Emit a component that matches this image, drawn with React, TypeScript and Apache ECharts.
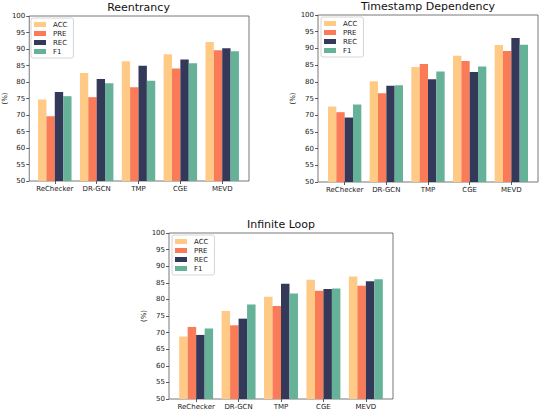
import { useEffect, useRef } from 'react'
import * as echarts from 'echarts'

const categories = ['ReChecker', 'DR-GCN', 'TMP', 'CGE', 'MEVD']
const metrics = ['ACC', 'PRE', 'REC', 'F1']
const yTicks = [50, 55, 60, 65, 70, 75, 80, 85, 90, 95, 100]

const reentrancyACC = [74.7, 82.7, 86.3, 88.4, 92.1]
const reentrancyPRE = [69.6, 75.4, 78.4, 84.1, 89.6]
const reentrancyREC = [77.0, 80.9, 84.9, 86.8, 90.2]
const reentrancyF1 = [75.7, 79.6, 80.4, 85.7, 89.3]

const timestampACC = [72.6, 80.2, 84.4, 87.8, 91.0]
const timestampPRE = [70.9, 76.6, 85.3, 86.2, 89.2]
const timestampREC = [69.3, 78.8, 80.8, 82.9, 93.1]
const timestampF1 = [73.2, 79.0, 83.1, 84.6, 91.1]

const loopACC = [68.8, 76.5, 80.8, 85.9, 86.9]
const loopPRE = [71.7, 72.2, 78.0, 82.6, 84.1]
const loopREC = [69.3, 74.2, 84.7, 83.1, 85.5]
const loopF1 = [71.2, 78.5, 81.8, 83.3, 86.1]

const colors = ['#FFCA85', '#F97B57', '#34395A', '#66B298']

type EChartsOption = Record<string, any>

// plot rectangles in page pixels: left, top, width, height
const panels = [
  { title: 'Reentrancy', rect: [28, 16, 221, 165], data: [reentrancyACC, reentrancyPRE, reentrancyREC, reentrancyF1] },
  { title: 'Timestamp Dependency', rect: [318, 15, 220, 167], data: [timestampACC, timestampPRE, timestampREC, timestampF1] },
  { title: 'Infinite Loop', rect: [169, 233, 224, 166], data: [loopACC, loopPRE, loopREC, loopF1] },
]

export default function App() {
  const chartRef = useRef<HTMLDivElement>(null)

  useEffect(() => {
    if (!chartRef.current) return
    const chart = echarts.init(chartRef.current, undefined, { renderer: 'svg' })

    const grid: any[] = []
    const xAxis: any[] = []
    const yAxis: any[] = []
    const series: any[] = []
    const title: any[] = []
    const legend: any[] = []
    const axisText = { color: '#222', fontSize: 7, fontFamily: 'DejaVu Sans' }

    panels.forEach((p, k) => {
      const [l, t, w, h] = p.rect
      // matplotlib keeps 5% margins on the x range, so bars sit a bit inward
      const inset = w * 0.0265
      grid.push({
        left: l, top: t, width: w, height: h,
        show: true, borderColor: '#555', borderWidth: 0.8, backgroundColor: '#fff',
      })
      grid.push({ left: l + inset, top: t, width: w - 2 * inset, height: h })

      xAxis.push({ gridIndex: 2 * k, type: 'value', show: false })
      xAxis.push({
        gridIndex: 2 * k + 1,
        type: 'category',
        data: categories,
        axisLine: { show: false },
        axisTick: { show: true, alignWithLabel: true, length: 3, lineStyle: { color: '#333', width: 0.8 } },
        axisLabel: { ...axisText, margin: 4, interval: 0 },
      })
      yAxis.push({
        gridIndex: 2 * k,
        type: 'value',
        min: 50,
        max: 100,
        interval: 5,
        name: '(%)',
        nameLocation: 'middle',
        nameGap: 18,
        nameTextStyle: { ...axisText },
        axisLine: { show: false },
        axisTick: { show: true, length: 3, lineStyle: { color: '#333', width: 0.8 } },
        axisLabel: { ...axisText, margin: 4, formatter: (v: number) => (yTicks.includes(v) ? String(v) : '') },
        splitLine: { show: false },
      })
      yAxis.push({ gridIndex: 2 * k + 1, type: 'value', min: 50, max: 100, show: false })

      title.push({
        text: p.title,
        left: l + w / 2,
        top: t - 14,
        padding: 0,
        textAlign: 'center',
        textStyle: { fontSize: 11, fontWeight: 'normal', color: '#111', fontFamily: 'DejaVu Sans' },
      })
      legend.push({
        data: metrics,
        orient: 'vertical',
        left: l + 3,
        top: t + 2,
        itemWidth: 12,
        itemHeight: 5,
        itemGap: 2,
        icon: 'rect',
        padding: [3, 6, 3, 3],
        borderColor: '#ccc',
        borderWidth: 0.8,
        borderRadius: 2,
        backgroundColor: 'rgba(255,255,255,0.8)',
        textStyle: { ...axisText, padding: [0, 0, 0, 2] },
        selectedMode: false,
      })

      metrics.forEach((m, i) => {
        series.push({
          name: m,
          type: 'bar',
          xAxisIndex: 2 * k + 1,
          yAxisIndex: 2 * k + 1,
          data: p.data[i],
          barGap: '0%',
          barCategoryGap: '20%',
          itemStyle: { color: colors[i] },
        })
      })
    })

    const option: EChartsOption = {
      animation: false,
      backgroundColor: '#fff',
      title,
      legend,
      grid,
      xAxis,
      yAxis,
      series,
    }
    chart.setOption(option)

    return () => {
      chart.dispose()
    }
  }, [])

  return (
    <div
      ref={chartRef}
      style={{ position: 'fixed', left: 0, top: 0, width: 550, height: 411 }}
    />
  )
}
